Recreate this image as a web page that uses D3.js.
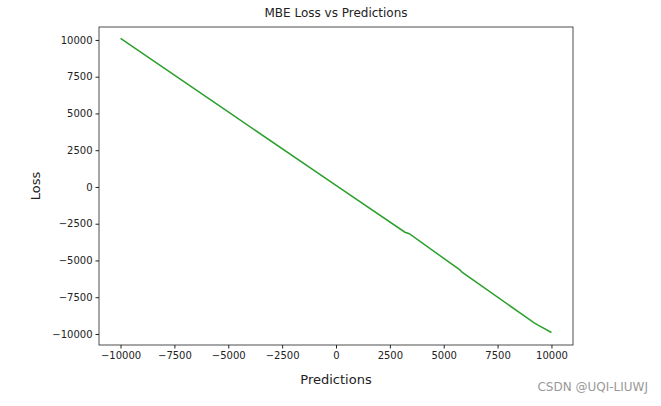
<!DOCTYPE html>
<html><head><meta charset="utf-8">
<script src="https://cdn.jsdelivr.net/npm/d3@7"></script>
<style>body{margin:0;background:#fff;font-family:"DejaVu Sans",sans-serif;}</style>
</head><body><div id="chart"></div>
<script>
// data: loss = y_true - prediction
var predictions = [-10000, -5000, 0, 3200, 3400, 5750, 5850, 9200, 9400, 10000];
var losses      = [10100, 5100, 100, -3080, -3180, -5640, -5800, -9250, -9420, -9900];
var xTicks = [-10000, -7500, -5000, -2500, 0, 2500, 5000, 7500, 10000];
var yTicks = [-10000, -7500, -5000, -2500, 0, 2500, 5000, 7500, 10000];

var margin = { left:99, right:88, top:27, bottom:61 };
var width = 661 - margin.left - margin.right,
    height = 406 - margin.top - margin.bottom;

var svg = d3.select("#chart").append("svg")
    .attr("width", 661).attr("height", 406);
var g = svg.append("g")
    .attr("transform", "translate(" + margin.left + "," + margin.top + ")");

var x = d3.scaleLinear().domain([-11000, 11000]).range([0, width]);
var y = d3.scaleLinear().domain([-10750, 10880]).range([height, 0]);

var xAxis = g.append("g")
    .attr("transform", "translate(0," + height + ")")
    .call(d3.axisBottom(x).tickValues(xTicks).tickSize(3.5).tickPadding(3)
        .tickFormat(function(d){ return String(d).replace("-", "\u2212"); }));
var yAxis = g.append("g")
    .call(d3.axisLeft(y).tickValues(yTicks).tickSize(3.5).tickPadding(3)
        .tickFormat(function(d){ return String(d).replace("-", "\u2212"); }));
[xAxis, yAxis].forEach(function(a){
    a.select(".domain").remove();
    a.selectAll("text").attr("font-size", "10px").attr("fill", "#222")
        .style("font-family", "DejaVu Sans");
    a.selectAll("line").attr("stroke", "#222");
});

g.append("rect").attr("width", width).attr("height", height)
    .attr("fill", "none").attr("stroke", "#222").attr("stroke-width", 0.8);

var line = d3.line()
    .x(function(d, i){ return x(predictions[i]); })
    .y(function(d){ return y(d); });
g.append("path").datum(losses)
    .attr("d", line)
    .attr("fill", "none").attr("stroke", "#2ca02c").attr("stroke-width", 1.5);

svg.append("text").attr("x", margin.left + width / 2).attr("y", 17)
    .attr("text-anchor", "middle").attr("font-size", "12px").attr("fill", "#222")
    .text("MBE Loss vs Predictions");
svg.append("text").attr("x", margin.left + width / 2).attr("y", 384)
    .attr("text-anchor", "middle").attr("font-size", "13px").attr("fill", "#222")
    .text("Predictions");
svg.append("text")
    .attr("transform", "translate(40," + (margin.top + height / 2) + ") rotate(-90)")
    .attr("text-anchor", "middle").attr("font-size", "13px").attr("fill", "#222")
    .text("Loss");
svg.append("text").attr("x", 648).attr("y", 391)
    .attr("text-anchor", "end").attr("font-size", "12px").attr("fill", "#999")
    .text("CSDN @UQI-LIUWJ");
</script></body></html>
